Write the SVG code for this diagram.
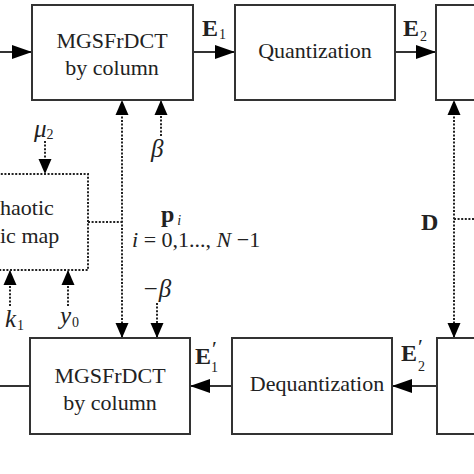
<svg xmlns="http://www.w3.org/2000/svg" width="474" height="474" viewBox="0 0 474 474">
<style>
.box{fill:#fff;stroke:#333;stroke-width:2}
.dbox{fill:none;stroke:#222;stroke-width:2;stroke-dasharray:2 1.6}
.ln{stroke:#333;stroke-width:2;fill:none}
.dl{stroke:#222;stroke-width:2;stroke-dasharray:2 1.6;fill:none}
text{font-family:"Liberation Serif","Times New Roman",serif;fill:#222}
.t{font-size:22px}
.m{font-size:25px;font-style:italic}
.b{font-size:24px;font-weight:bold}
.s{font-size:14px}
</style>
<defs>
<marker id="ah" markerUnits="userSpaceOnUse" markerWidth="20" markerHeight="14" refX="20" refY="7" orient="auto-start-reverse"><path d="M0,0 L20,7 L0,14 z" fill="#000"/></marker>
<marker id="ad" markerUnits="userSpaceOnUse" markerWidth="15" markerHeight="14" refX="15" refY="7" orient="auto-start-reverse"><path d="M0,0.5 L15,7 L0,13.5 z" fill="#000"/></marker>
</defs>
<rect width="474" height="474" fill="#fff"/>

<g id="connectors">
<line class="ln" x1="0" y1="52" x2="32" y2="52" marker-end="url(#ah)"/>
<line class="ln" x1="193" y1="52" x2="235" y2="52" marker-end="url(#ah)"/>
<line class="ln" x1="395" y1="52" x2="436" y2="52" marker-end="url(#ah)"/>
<line class="ln" x1="232" y1="386" x2="190" y2="386" marker-end="url(#ah)"/>
<line class="ln" x1="437" y1="386" x2="392" y2="386" marker-end="url(#ah)"/>
<line class="ln" x1="30" y1="386" x2="0" y2="386"/>
<line class="dl" x1="122" y1="338" x2="122" y2="100" marker-start="url(#ad)" marker-end="url(#ad)"/>
<line class="dl" x1="161" y1="136" x2="161" y2="100" marker-end="url(#ad)"/>
<line class="dl" x1="157" y1="303" x2="157" y2="338" marker-end="url(#ad)"/>
<line class="dl" x1="45" y1="141" x2="45" y2="174" marker-end="url(#ad)"/>
<line class="dl" x1="10" y1="306" x2="10" y2="270" marker-end="url(#ad)"/>
<line class="dl" x1="68" y1="306" x2="68" y2="270" marker-end="url(#ad)"/>
<line class="dl" x1="88" y1="222" x2="122" y2="222"/>
<line class="dl" x1="454" y1="338" x2="454" y2="100" marker-start="url(#ad)" marker-end="url(#ad)"/>
<line class="dl" x1="454" y1="219" x2="474" y2="219"/>
</g>

<g id="mgs-top">
<rect class="box" x="32" y="5" width="161" height="95"/>
<text class="t" x="112" y="48" text-anchor="middle">MGSFrDCT</text>
<text class="t" x="112" y="75" text-anchor="middle">by column</text>
</g>
<g id="quant">
<rect class="box" x="235" y="5" width="160" height="95"/>
<text class="t" x="315" y="58" text-anchor="middle">Quantization</text>
</g>
<g id="right-top">
<rect class="box" x="436" y="5" width="50" height="95"/>
</g>
<g id="chaotic">
<rect class="dbox" x="-10" y="174" width="98" height="96"/>
<text class="t" x="0" y="215">haotic</text>
<text class="t" x="0" y="243">ic map</text>
</g>
<g id="mgs-bottom">
<rect class="box" x="30" y="338" width="160" height="96"/>
<text class="t" x="110" y="383" text-anchor="middle">MGSFrDCT</text>
<text class="t" x="110" y="410" text-anchor="middle">by column</text>
</g>
<g id="dequant">
<rect class="box" x="232" y="338" width="160" height="96"/>
<text class="t" x="317" y="391" text-anchor="middle">Dequantization</text>
</g>
<g id="right-bottom">
<rect class="box" x="437" y="338" width="50" height="96"/>
</g>

<g id="labels">
<text x="202" y="36"><tspan class="b">E</tspan><tspan class="s" dx="1" dy="3">1</tspan></text>
<text x="403" y="36"><tspan class="b">E</tspan><tspan class="s" dx="1" dy="5">2</tspan></text>
<text x="195" y="364"><tspan class="b">E</tspan><tspan class="s" dx="0" dy="8">1</tspan></text>
<text class="t" x="212" y="356">′</text>
<text x="401" y="361"><tspan class="b">E</tspan><tspan class="s" dx="1" dy="10">2</tspan></text>
<text class="t" x="418" y="354">′</text>
<text x="34" y="137"><tspan class="m">μ</tspan><tspan class="s" dy="2">2</tspan></text>
<text class="m" x="151" y="157">β</text>
<text class="m" x="142" y="297">−β</text>
<text x="5" y="327"><tspan class="m">k</tspan><tspan class="s" dx="1" dy="3">1</tspan></text>
<text x="60" y="324"><tspan class="m">y</tspan><tspan class="s" dx="1" dy="3">0</tspan></text>
<text x="161" y="222"><tspan class="b">p</tspan><tspan class="s" font-style="italic" dx="3" dy="3">i</tspan></text>
<text class="t" x="132" y="247" font-size="23px"><tspan font-style="italic">i</tspan> = 0,1..., <tspan font-style="italic">N</tspan> −1</text>
<text class="b" x="421" y="230">D</text>
</g>
</svg>
